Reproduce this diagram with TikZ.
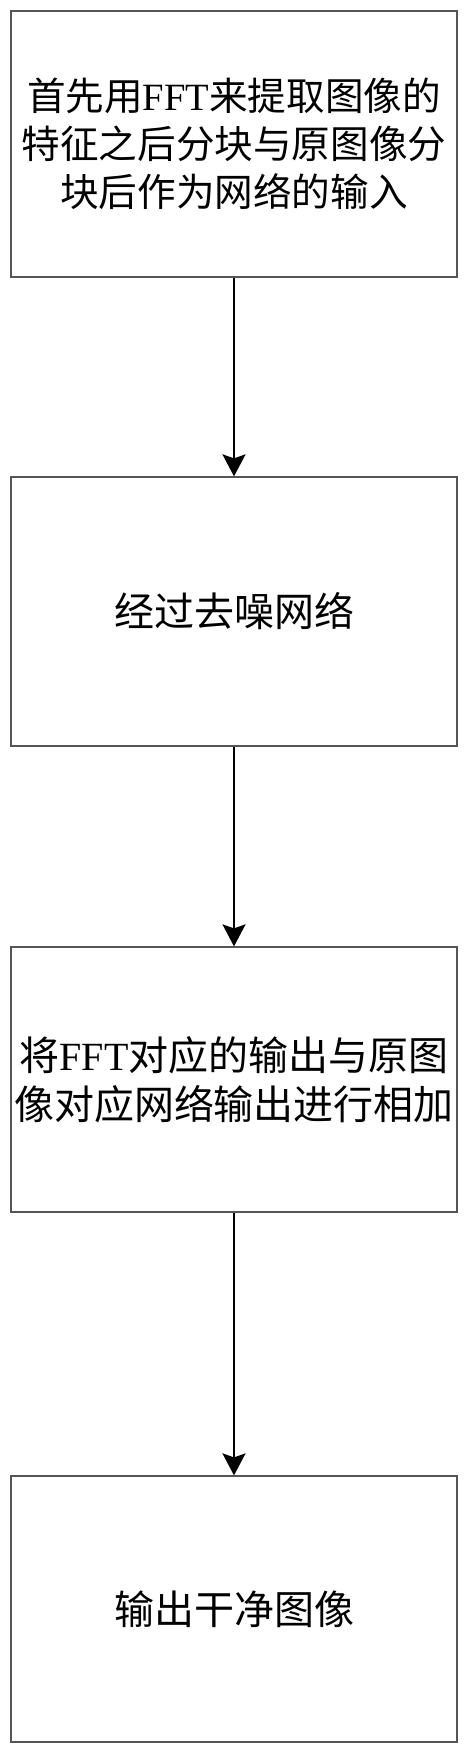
\documentclass[tikz,border=0pt]{standalone}
\usepackage{fontspec}
\setmainfont{Liberation Serif}
\newfontfamily\cjk{Noto Sans CJK SC}
\usetikzlibrary{arrows.meta}
\definecolor{ink}{HTML}{000000}
\definecolor{frame}{HTML}{555555}

\begin{document}
\begin{tikzpicture}[
  x=0.5pt,y=0.5pt,
  stepbox/.style={draw=frame,line width=0.6pt,minimum width=223pt,
    inner sep=0pt,align=center,font=\fontsize{20pt}{24.5pt}\selectfont},
  flow/.style={draw=ink,line width=1.1pt,
    -{Stealth[length=11pt,width=11.5pt,inset=2pt]}}
]
\useasboundingbox (0,0) rectangle (474,1757);

% four steps, top to bottom
\node[stepbox,minimum height=133pt,
  font=\fontsize{19.3pt}{24pt}\selectfont] (feat) at (234,1613)
  {{\cjk 首先用}FFT{\cjk 来提取图像的}\\
   {\cjk 特征之后分块与原图像分}\\
   {\cjk 块后作为网络的输入}};
\node[stepbox,minimum height=134.5pt] (denoise) at (234,1145.5)
  {\cjk 经过去噪网络};
\node[stepbox,minimum height=132.5pt] (merge) at (234,677.5)
  {{\cjk 将}FFT{\cjk 对应的输出与原图}\\
   {\cjk 像对应网络输出进行相加}};
\node[stepbox,minimum height=133pt] (clean) at (234,148)
  {\cjk 输出干净图像};

% connectors
\draw[flow] (feat.south) -- (denoise.north);
\draw[flow] (denoise.south) -- (merge.north);
\draw[flow] (merge.south) -- (clean.north);

\end{tikzpicture}
\end{document}
